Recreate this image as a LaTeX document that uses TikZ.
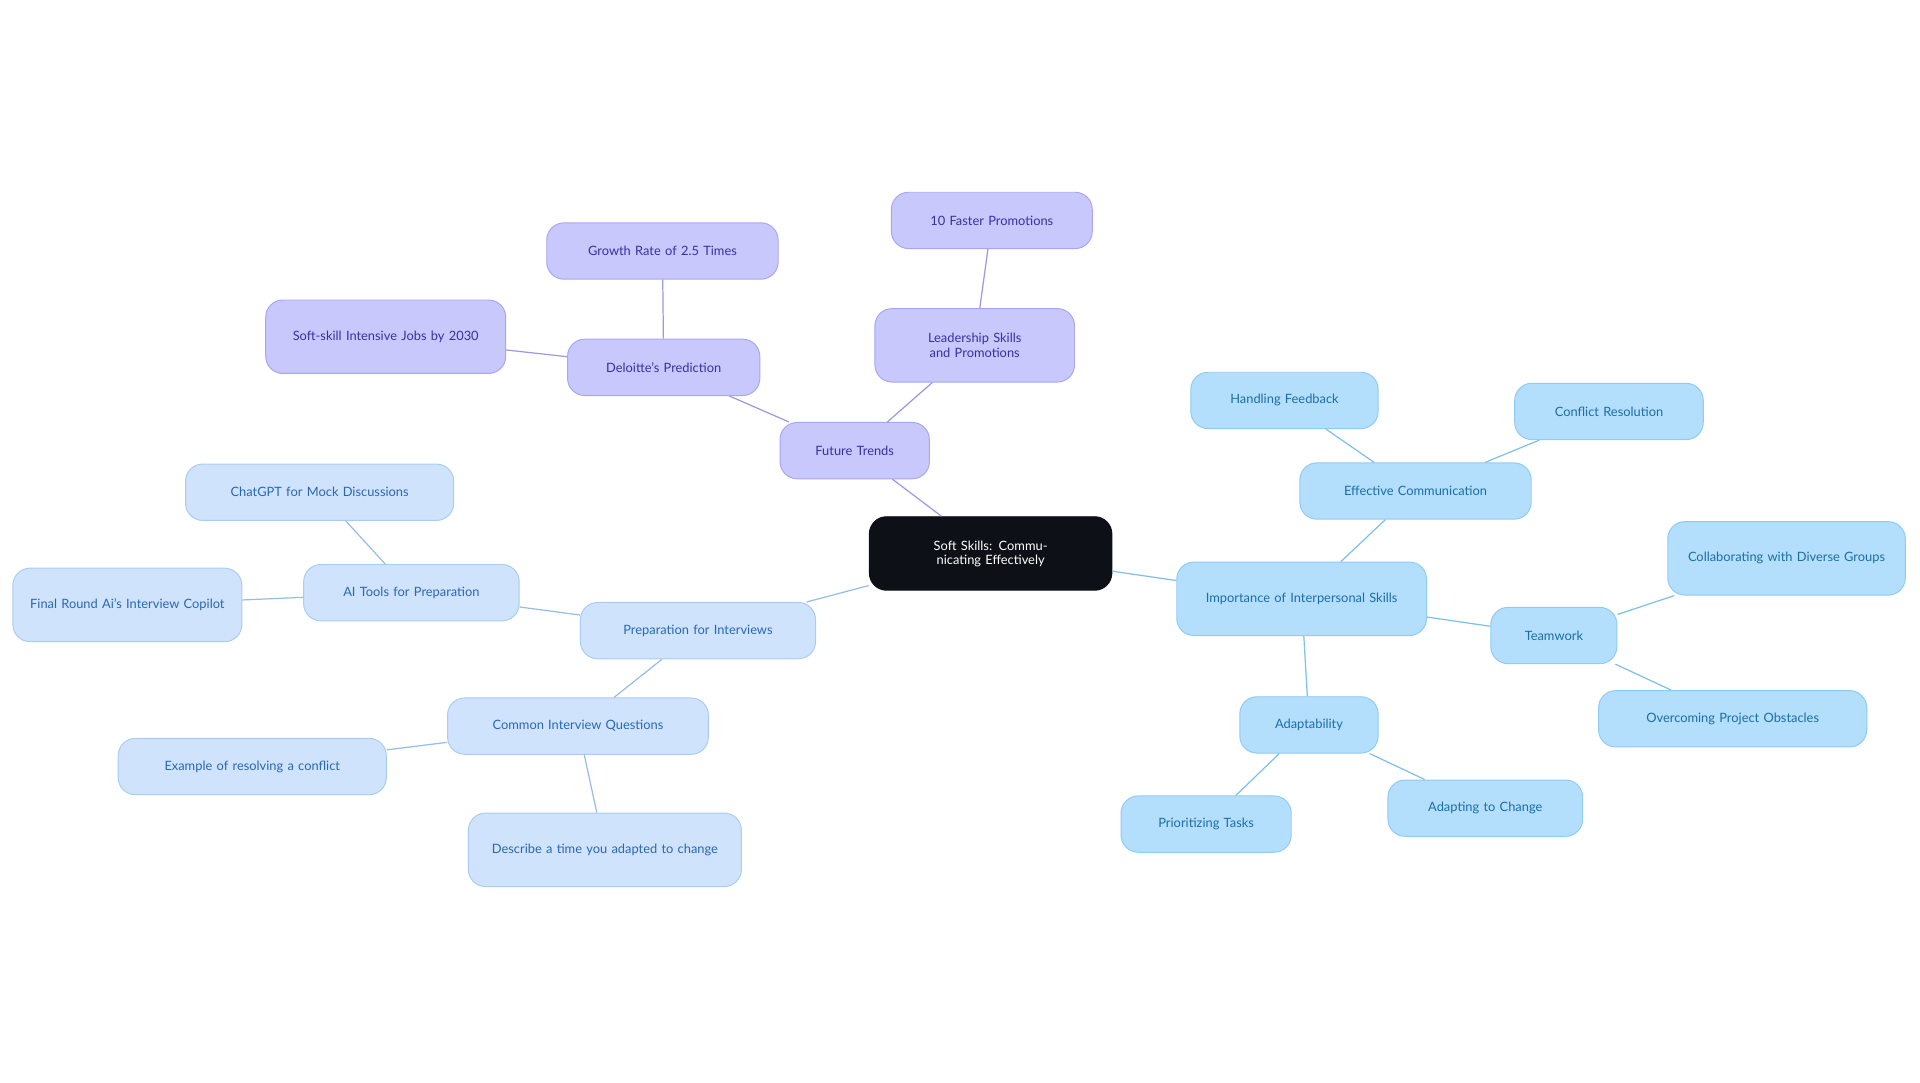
\documentclass[tikz,border=0pt]{standalone}
\usepackage{fontspec}
\setmainfont{Lato}
\definecolor{pfill}{HTML}{C9C8FD}\definecolor{pdraw}{HTML}{A9A5F2}\definecolor{ptext}{HTML}{3B2FA0}\definecolor{pedge}{HTML}{9D97E6}
\definecolor{bfill}{HTML}{B3DEFC}\definecolor{bdraw}{HTML}{8FCBF5}\definecolor{btext}{HTML}{1B6FA6}\definecolor{bedge}{HTML}{7FBFEA}
\definecolor{lfill}{HTML}{CFE3FC}\definecolor{ldraw}{HTML}{AACCF2}\definecolor{ltext}{HTML}{2A68B3}\definecolor{ledge}{HTML}{98BCE8}
\definecolor{rootc}{HTML}{0D1117}
\tikzset{
 box/.style={rounded corners=14pt, line width=0.8pt, align=center, font=\fontsize{10.5}{11.5}\selectfont, inner sep=2pt},
 pnode/.style={box, fill=pfill, draw=pdraw, text=ptext},
 bnode/.style={box, fill=bfill, draw=bdraw, text=btext},
 lnode/.style={box, fill=lfill, draw=ldraw, text=ltext},
 rnode/.style={box, fill=rootc, draw=rootc, text=white},
 pe/.style={draw=pedge, line width=1pt},
 be/.style={draw=bedge, line width=1pt},
 le/.style={draw=ledge, line width=1pt},
}
\newcommand{\nd}[7]{\node[#6, minimum width=#4pt, minimum height=#5pt, text width=#4pt-24pt] (#1) at (#2pt,-#3pt) {#7};}
\begin{document}
\begin{tikzpicture}
\useasboundingbox (0,0) rectangle (1568pt,-884pt);
\nd{root}{809}{452}{198}{60}{rnode}{Soft Skills: Communicating Effectively}
\nd{ft}{698}{368}{122}{46}{pnode}{Future Trends}
\nd{dp}{542}{300}{157}{46}{pnode}{Deloitte's Prediction}
\nd{gr}{541}{205}{189}{46}{pnode}{Growth Rate of 2.5 Times}
\nd{ss}{315}{275}{196}{60}{pnode}{Soft-skill Intensive Jobs by 2030}
\nd{ls}{796}{282}{163}{60}{pnode}{Leadership Skills and Promotions}
\nd{tf}{810}{180}{164}{46}{pnode}{10 Faster Promotions}
\nd{ip}{1063}{489}{204}{60}{bnode}{Importance of Interpersonal Skills}
\nd{ec}{1156}{401}{189}{46}{bnode}{Effective Communication}
\nd{hf}{1049}{327}{153}{46}{bnode}{Handling Feedback}
\nd{cr}{1314}{336}{154}{46}{bnode}{Conflict Resolution}
\nd{tw}{1269}{519}{103}{46}{bnode}{Teamwork}
\nd{cd}{1459}{456}{194}{60}{bnode}{Collaborating with Diverse Groups}
\nd{op}{1415}{587}{219}{46}{bnode}{Overcoming Project Obstacles}
\nd{ad}{1069}{592}{113}{46}{bnode}{Adaptability}
\nd{pt}{985}{673}{139}{46}{bnode}{Prioritizing Tasks}
\nd{ac}{1213}{660}{159}{46}{bnode}{Adapting to Change}
\nd{pi}{570}{515}{192}{46}{lnode}{Preparation for Interviews}
\nd{ai}{336}{484}{176}{46}{lnode}{AI Tools for Preparation}
\nd{cg}{261}{402}{219}{46}{lnode}{ChatGPT for Mock Discussions}
\nd{fr}{104}{494}{187}{60}{lnode}{Final Round Ai's Interview Copilot}
\nd{ci}{472}{593}{213}{46}{lnode}{Common Interview Questions}
\nd{ex}{206}{626}{219}{46}{lnode}{Example of resolving a conflict}
\nd{de}{494}{694}{223}{60}{lnode}{Describe a time you adapted to change}
\begin{scope}[on background layer/.style={}]
\end{scope}
\path[pe] (root) -- (ft); \path[pe] (ft) -- (dp); \path[pe] (dp) -- (gr); \path[pe] (dp) -- (ss);
\path[pe] (ft) -- (ls); \path[pe] (ls) -- (tf);
\path[be] (root) -- (ip); \path[be] (ip) -- (ec); \path[be] (ec) -- (hf); \path[be] (ec) -- (cr);
\path[be] (ip) -- (tw); \path[be] (tw) -- (cd); \path[be] (tw) -- (op);
\path[be] (ip) -- (ad); \path[be] (ad) -- (pt); \path[be] (ad) -- (ac);
\path[le] (root) -- (pi); \path[le] (pi) -- (ai); \path[le] (ai) -- (cg); \path[le] (ai) -- (fr);
\path[le] (pi) -- (ci); \path[le] (ci) -- (ex); \path[le] (ci) -- (de);
\end{tikzpicture}
\end{document}
